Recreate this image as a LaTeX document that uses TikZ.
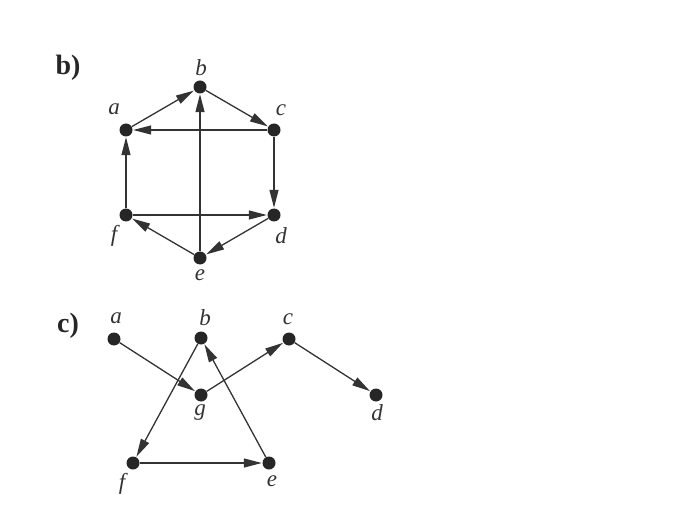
\documentclass[tikz,border=0pt]{standalone}
\usepackage{fontspec}
\setmainfont{Liberation Serif}
\usetikzlibrary{arrows.meta}
\begin{document}
\begin{tikzpicture}[x=1pt,y=-1pt,
  vtx/.style={circle,fill=black!85,inner sep=0pt,minimum size=13pt},
  lbl/.style={font=\fontsize{23}{23}\selectfont\itshape,text=black!80,inner sep=0pt},
  ttl/.style={font=\fontsize{28}{28}\selectfont\bfseries,text=black!85,inner sep=0pt},
  edge/.style={draw=black!80,line width=1.3pt,-{Triangle[length=18pt,width=9pt]},shorten >=0.5pt}]
\useasboundingbox (0,0) rectangle (684,518);
% part b
\node[ttl] (tb) at (68,68) {b)};
\node[vtx] (bb) at (200,87) {};
\node[vtx] (ba) at (126,130) {};
\node[vtx] (bc) at (274,130) {};
\node[vtx] (bf) at (126,215) {};
\node[vtx] (bd) at (274,215) {};
\node[vtx] (be) at (200,258) {};
\node[lbl] (lbb) at (201,68) {b};
\node[lbl] (lba) at (114,109) {a};
\node[lbl] (lbc) at (281,110) {c};
\node[lbl] (lbf) at (114,236) {f};
\node[lbl] (lbd) at (281,236) {d};
\node[lbl] (lbe) at (200,275) {e};
\draw[edge] (ba) -- (bb);
\draw[edge] (bb) -- (bc);
\draw[edge] (bc) -- (ba);
\draw[edge] (bc) -- (bd);
\draw[edge] (bf) -- (ba);
\draw[edge] (be) -- (bb);
\draw[edge] (bf) -- (bd);
\draw[edge] (bd) -- (be);
\draw[edge] (be) -- (bf);
% part c
\node[ttl] (tc) at (68,326) {c)};
\node[vtx] (ca) at (114,339) {};
\node[vtx] (cb) at (201,338) {};
\node[vtx] (cc) at (289,339) {};
\node[vtx] (cg) at (201,395) {};
\node[vtx] (cd) at (376,395) {};
\node[vtx] (cf) at (133,463) {};
\node[vtx] (ce) at (269,463) {};
\node[lbl] (lca) at (116,318) {a};
\node[lbl] (lcb) at (205,318) {b};
\node[lbl] (lcc) at (288,319) {c};
\node[lbl] (lcg) at (200,413) {g};
\node[lbl] (lcd) at (377,413) {d};
\node[lbl] (lcf) at (122,484) {f};
\node[lbl] (lce) at (272,481) {e};
\draw[edge] (ca) -- (cg);
\draw[edge] (cg) -- (cc);
\draw[edge] (cc) -- (cd);
\draw[edge] (cb) -- (cf);
\draw[edge] (cf) -- (ce);
\draw[edge] (ce) -- (cb);
\end{tikzpicture}
\end{document}
